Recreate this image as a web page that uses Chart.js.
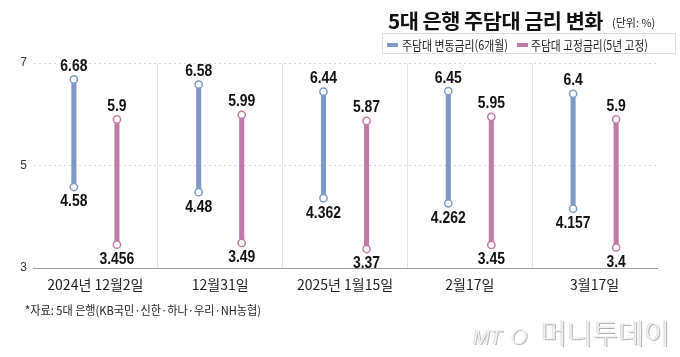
<!DOCTYPE html>
<html><head><meta charset="utf-8">
<script src="https://cdn.jsdelivr.net/npm/chart.js@4"></script>
<style>
html,body{margin:0;padding:0;background:#fff;}
#wrap{position:relative;width:680px;height:357px;overflow:hidden;font-family:"Noto Sans CJK KR",sans-serif;}
#c{position:absolute;left:0;top:0;}
.abs{position:absolute;white-space:nowrap;transform-origin:left top;}
#title{left:388px;top:6px;font-size:20px;font-weight:700;color:#111;letter-spacing:-0.5px;}
#unit{left:612px;top:14px;font-size:11px;color:#222;}
#legend{left:382px;top:33px;width:294px;height:21px;border:1px solid #ddd;box-sizing:border-box;}
.sw{position:absolute;width:11px;height:4px;top:9px;}
.lt{position:absolute;top:1px;font-size:13px;color:#222;white-space:nowrap;transform-origin:left top;}
#src{left:25px;top:301px;font-size:12px;color:#222;}
#wm{left:473px;top:312px;color:#f2f2f2;}
</style></head>
<body><div id="wrap">
<canvas id="c" width="680" height="357"></canvas>
<div class="abs" id="title">5대 은행 주담대 금리 변화</div>
<div class="abs" id="unit">(단위: %)</div>
<div class="abs" id="legend">
  <div class="sw" style="left:4px;background:#7d9ac6"></div>
  <div class="lt" id="lt1" style="left:19px">주담대 변동금리(6개월)</div>
  <div class="sw" style="left:134px;background:#c27ba6"></div>
  <div class="lt" id="lt2" style="left:148px">주담대 고정금리(5년 고정)</div>
</div>
<div class="abs" id="src">*자료: 5대 은행(KB국민·신한·하나·우리·NH농협)</div>
<div class="abs" id="wm"><span style="font-family:'Liberation Sans';font-style:italic;font-size:20px;text-shadow:1px 1px 0 #b8b8b8,-1px 0 0 #e0e0e0;">MT</span><span style="font-family:'Liberation Serif';font-style:italic;font-size:24px;margin-left:8px;text-shadow:1px 1px 0 #b8b8b8;">O</span><span id="wmk" style="display:inline-block;font-size:28px;font-weight:300;margin-left:14px;text-shadow:1px 1px 0 #b0b0b0,-1px 0 0 #dcdcdc;">머니투데이</span></div>
</div>
<script>
const categories = ['2024년 12월2일', '12월31일', '2025년 1월15일', '2월17일', '3월17일'];
const variableHigh = [6.68, 6.58, 6.44, 6.45, 6.4];
const variableLow = [4.58, 4.48, 4.362, 4.262, 4.157];
const fixedHigh = [5.9, 5.99, 5.87, 5.95, 5.9];
const fixedLow = [3.456, 3.49, 3.37, 3.45, 3.4];
const yTicks = [3, 5, 7];
const seriesNames = ['주담대 변동금리(6개월)', '주담대 고정금리(5년 고정)'];
const colors = ['#7d9ac6', '#c27ba6'];

function fitText(id, w){ const el=document.getElementById(id); const r=el.getBoundingClientRect().width; if(r>0) el.style.transform='scaleX('+(w/r)+')'; }
fitText('lt1',106); fitText('lt2',117); fitText('src',236); fitText('title',215);

const endpoints = {
  id:'endpoints',
  afterDatasetsDraw(chart){
    const ctx = chart.ctx;
    const lows = [variableLow, fixedLow], highs = [variableHigh, fixedHigh];
    chart.data.datasets.forEach((ds, di) => {
      const meta = chart.getDatasetMeta(di);
      meta.data.forEach((el, i) => {
        const yTop = Math.min(el.y, el.base), yBot = Math.max(el.y, el.base);
        ctx.save();
        ctx.lineWidth = 1.5; ctx.strokeStyle = colors[di]; ctx.fillStyle = '#fff';
        [yTop, yBot].forEach(y => { ctx.beginPath(); ctx.arc(el.x, y, 3.6, 0, Math.PI*2); ctx.fill(); ctx.stroke(); });
        ctx.fillStyle = '#111';
        ctx.font = 'bold 16px "Liberation Sans", Arial, sans-serif';
        ctx.textAlign = 'center'; ctx.textBaseline = 'middle';
        [[String(highs[di][i]), yTop - 13], [String(lows[di][i]), yBot + 15]].forEach(([t, y]) => {
          ctx.save(); ctx.translate(el.x, y); ctx.scale(0.87, 1); ctx.fillText(t, 0, 0); ctx.restore();
        });
        ctx.restore();
      });
    });
  }
};

new Chart(document.getElementById('c'), {
  type: 'bar',
  data: {
    labels: categories,
    datasets: [
      { label: seriesNames[0], data: variableLow.map((v,i)=>[v, variableHigh[i]]), backgroundColor: colors[0], categoryPercentage: 0.69, barPercentage: 0.118, borderSkipped: false },
      { label: seriesNames[1], data: fixedLow.map((v,i)=>[v, fixedHigh[i]]), backgroundColor: colors[1], categoryPercentage: 0.69, barPercentage: 0.118, borderSkipped: false }
    ]
  },
  options: {
    responsive: false, animation: false,
    layout: { padding: { top: 63, left: 0, right: 23, bottom: 59 } },
    plugins: { legend: { display: false }, tooltip: { enabled: false }, title: { display: false } },
    scales: {
      x: {
        grid: { drawTicks: false, color: c => (c.index > 0 ? '#e4e4e4' : 'rgba(0,0,0,0)'), lineWidth: 1 },
        border: { display: true, color: '#9a9a9a', width: 1 },
        ticks: { color: '#222', padding: 8, font: { family: '"Noto Sans CJK KR", sans-serif', size: 14 } },
        afterFit: s => { s.height = 30; }
      },
      y: {
        min: 3, max: 7,
        afterBuildTicks: s => { s.ticks = yTicks.map(v => ({ value: v })); },
        grid: { drawTicks: false, color: c => (c.tick && c.tick.value === 3 ? 'rgba(0,0,0,0)' : '#d4d4d4') },
        border: { display: true, color: 'rgba(0,0,0,0)', dash: [2, 3] },
        ticks: { color: '#333', padding: 6, font: { family: '"Liberation Sans", Arial, sans-serif', size: 12 } },
        afterFit: s => { s.width = 33; }
      }
    }
  },
  plugins: [endpoints]
});
</script>
</body></html>
